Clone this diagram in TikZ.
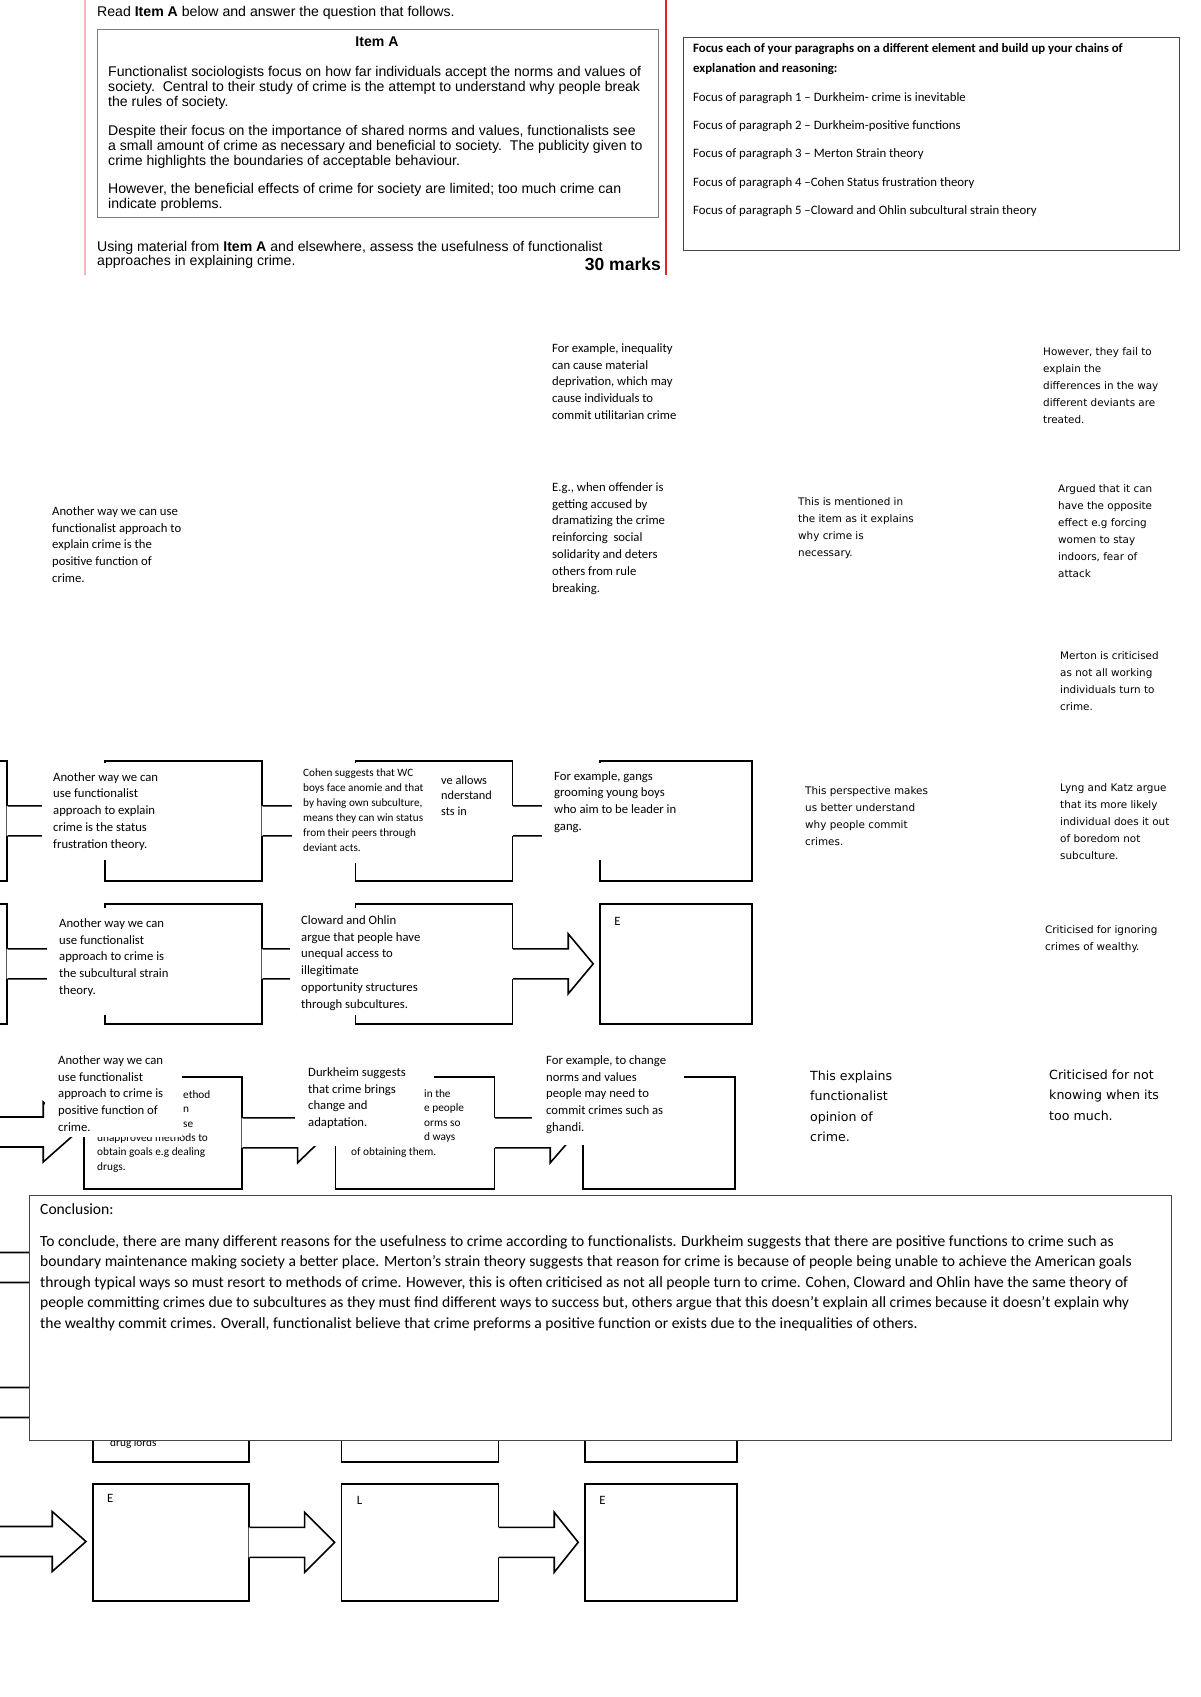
\documentclass[tikz,border=0pt]{standalone}
\usepackage{fontspec}
\setmainfont{Carlito}
\newfontfamily\itemfont{Liberation Sans}
\newfontfamily\notefont{DejaVu Sans}
\usetikzlibrary{positioning}
\usetikzlibrary{calc}

\definecolor{pinkline}{RGB}{240,185,190}
\definecolor{redline}{RGB}{225,35,35}
\definecolor{boxgray}{RGB}{125,125,125}
\definecolor{framegray}{RGB}{70,70,70}

\tikzset{
  flowbox/.style={draw, line width=1.6pt, inner sep=0pt, minimum width=157pt},
  flowline/.style={line width=1.6pt, line join=miter},
  cover/.style={fill=white},
  flowtext/.style={anchor=north west, inner sep=0pt, align=left, font=\fontsize{12.7pt}{16.8pt}\selectfont},
  smalltext/.style={anchor=north west, inner sep=0pt, align=left, font=\fontsize{11.3pt}{14.5pt}\selectfont},
  sidetext/.style={anchor=north west, inner sep=0pt, align=left, font=\notefont\fontsize{10.4pt}{17.1pt}\selectfont},
  bigside/.style={anchor=north west, inner sep=0pt, align=left, font=\notefont\fontsize{12.6pt}{20.6pt}\selectfont},
  itemtext/.style={anchor=north west, inner sep=0pt, align=left, font=\itemfont\fontsize{14.1pt}{14.7pt}\selectfont},
  endpoint/.style={inner sep=0pt, minimum size=0pt},
}

% block arrow from the right side of #1 to the left side of #2
\newcommand{\blockarrow}[2]{%
  \fill[white] let \p1=(#1.east), \p2=(#2.west) in
    (\x1-1pt,\y1+15pt) -- (\x1+55pt,\y1+15pt) -- (\x1+55pt,\y1+30pt) -- (\x2-6pt,\y1)
    -- (\x1+55pt,\y1-30pt) -- (\x1+55pt,\y1-15pt) -- (\x1-1pt,\y1-15pt) -- cycle;
  \draw[flowline] let \p1=(#1.east), \p2=(#2.west) in
    (\x1,\y1+15pt) -- (\x1+55pt,\y1+15pt) -- (\x1+55pt,\y1+30pt) -- (\x2-6pt,\y1)
    -- (\x1+55pt,\y1-30pt) -- (\x1+55pt,\y1-15pt) -- (\x1,\y1-15pt);
}

\begin{document}
\begin{tikzpicture}[x=1pt, y=-1pt]
    \useasboundingbox (0,0) rectangle (1200,1697);
    \clip (0,0) rectangle (1200,1697);
    \fill[white] (0,0) rectangle (1200,1697);

    % exam question
    \draw[pinkline, line width=1.4pt] (85,0) -- (85,275);
    \draw[redline, line width=1.8pt] (666,0) -- (666,275);
    \node[itemtext] (read) at (97,5.8) {Read \textbf{Item A} below and answer the question that follows.};
    \node[draw=boxgray, line width=1.2pt, inner sep=0pt, anchor=north west, minimum width=561pt, minimum height=188pt] (itema) at (97,29) {};
    \node[itemtext, anchor=north] (itemhead) at (377,36.8) {\textbf{Item A}};
    \node[itemtext] (para1) at (108,66.5) {Functionalist sociologists focus on how far individuals accept the norms and values of\\society.\ \ Central to their study of crime is the attempt to understand why people break\\the rules of society.};
    \node[itemtext] (para2) at (108,125.3) {Despite their focus on the importance of shared norms and values, functionalists see\\a small amount of crime as necessary and beneficial to society.\ \ The publicity given to\\crime highlights the boundaries of acceptable behaviour.};
    \node[itemtext] (para3) at (108,183.3) {However, the beneficial effects of crime for society are limited; too much crime can\\indicate problems.};
    \node[itemtext] (question) at (97,240.8) {Using material from \textbf{Item A} and elsewhere, assess the usefulness of functionalist\\approaches in explaining crime.};
    \node[itemtext, anchor=north east, font=\itemfont\bfseries\fontsize{17.5pt}{18pt}\selectfont] (marks) at (661,258) {30 marks};

    % focus list
    \node[draw=framegray, line width=1.2pt, inner sep=0pt, anchor=north west, minimum width=496pt, minimum height=213pt] (focus) at (683,37) {};
    \node[anchor=north west, inner sep=0pt, align=left, font=\bfseries\fontsize{12.8pt}{19.5pt}\selectfont] (focushead) at (693,43.4) {Focus each of your paragraphs on a different element and build up your chains of\\explanation and reasoning:};
    \node[anchor=north west, inner sep=0pt, align=left, font=\fontsize{12.8pt}{28.25pt}\selectfont] (focuslist) at (693,92.2) {Focus of paragraph 1 – Durkheim- crime is inevitable\\Focus of paragraph 2 – Durkheim-positive functions\\Focus of paragraph 3 – Merton Strain theory\\Focus of paragraph 4 –Cohen Status frustration theory\\Focus of paragraph 5 –Cloward and Ohlin subcultural strain theory};

    % loose notes
    \node[flowtext] (ineq) at (552,343.3) {For example, inequality\\can cause material\\deprivation, which may\\cause individuals to\\commit utilitarian crime};
    \node[flowtext] (offender) at (552,482.3) {E.g., when offender is\\getting accused by\\dramatizing the crime\\reinforcing\ \ social\\solidarity and deters\\others from rule\\breaking.};
    \node[flowtext] (posfunc) at (52,506.3) {Another way we can use\\functionalist approach to\\explain crime is the\\positive function of\\crime.};

    \node[sidetext] (fail) at (1043,347.3) {However, they fail to\\explain the\\differences in the way\\different deviants are\\treated.};
    \node[sidetext] (mention) at (798,497.3) {This is mentioned in\\the item as it explains\\why crime is\\necessary.};
    \node[sidetext] (opposite) at (1058,484.3) {Argued that it can\\have the opposite\\effect e.g forcing\\women to stay\\indoors, fear of\\attack};
    \node[sidetext] (merton) at (1060,651.3) {Merton is criticised\\as not all working\\individuals turn to\\crime.};
    \node[sidetext] (perspective) at (805,786.3) {This perspective makes\\us better understand\\why people commit\\crimes.};
    \node[sidetext] (lyng) at (1060,783.3) {Lyng and Katz argue\\that its more likely\\individual does it out\\of boredom not\\subculture.};
    \node[sidetext] (wealthy) at (1045,925.3) {Criticised for ignoring\\crimes of wealthy.};
    \node[bigside] (explains) at (810,1070.3) {This explains\\functionalist\\opinion of\\crime.};
    \node[bigside] (toomuch) at (1049,1069.3) {Criticised for not\\knowing when its\\too much.};

    % row 1
    \node[flowbox, minimum height=120pt, anchor=north east] (b10) at (7.5,760) {};
    \node[flowbox, minimum height=120pt, anchor=north west] (b11) at (104,760) {};
    \node[flowbox, minimum height=120pt, right=92pt of b11] (b12) {};
    \node[flowbox, minimum height=120pt, minimum width=152pt, right=86pt of b12] (b13) {};
    \blockarrow{b10}{b11}
    \blockarrow{b11}{b12}
    \blockarrow{b12}{b13}
    \node[flowtext, font=\fontsize{12.3pt}{15.5pt}\selectfont] (hid12) at (441,775.5) {ve allows\\nderstand\\sts in};
    \fill[cover] (42,763) rectangle (230,860);
    \fill[cover] (292,763) rectangle (438,863);
    \fill[cover] (542,763) rectangle (688,860);
    \node[flowtext] (status) at (53,772) {Another way we can\\use functionalist\\approach to explain\\crime is the status\\frustration theory.};
    \node[flowtext, font=\fontsize{11.2pt}{15pt}\selectfont] (cohen) at (303,769) {Cohen suggests that WC\\boys face anomie and that\\by having own subculture,\\means they can win status\\from their peers through\\deviant acts.};
    \node[flowtext] (gangs) at (554,771) {For example, gangs\\grooming young boys\\who aim to be leader in\\gang.};

    % row 2
    \node[flowbox, minimum height=120pt, anchor=north east] (b20) at (7.5,903) {};
    \node[flowbox, minimum height=120pt, anchor=north west] (b21) at (104,903) {};
    \node[flowbox, minimum height=120pt, right=92pt of b21] (b22) {};
    \node[flowbox, minimum height=120pt, minimum width=152pt, right=86pt of b22] (b23) {};
    \blockarrow{b20}{b21}
    \blockarrow{b21}{b22}
    \blockarrow{b22}{b23}
    \fill[cover] (47,908) rectangle (230,1015);
    \fill[cover] (290,908) rectangle (440,1015);
    \node[flowtext] (subcult) at (59,918.3) {Another way we can\\use functionalist\\approach to crime is\\the subcultural strain\\theory.};
    \node[flowtext] (cloward) at (301,915.3) {Cloward and Ohlin\\argue that people have\\unequal access to\\illegitimate\\opportunity structures\\through subcultures.};
    \node[flowtext] (e23) at ($(b23.north west)+(15,14.3)$) {E};

    % row 3
    \node[endpoint] (in3) at (-12,1132) {};
    \node[flowbox, minimum height=112pt, minimum width=158pt, anchor=north west] (b31) at (83,1076) {};
    \node[flowbox, minimum height=112pt, minimum width=159pt, right=92pt of b31] (b32) {};
    \node[flowbox, minimum height=112pt, minimum width=152pt, right=87pt of b32] (b33) {};
    \blockarrow{in3}{b31}
    \blockarrow{b31}{b32}
    \blockarrow{b32}{b33}
    \node[smalltext] (hid31a) at (183,1090) {ethod\\n\\se};
    \node[smalltext] (hid31b) at (97,1133) {unapproved methods to\\obtain goals e.g dealing\\drugs.};
    \node[smalltext] (hid32a) at (424,1089) {in the\\e people\\orms so\\d ways};
    \node[smalltext] (hid32b) at (351,1147) {of obtaining them.};
    \fill[cover] (45,1050) rectangle (182,1137);
    \fill[cover] (295,1050) rectangle (434,1080);
    \fill[cover] (295,1050) rectangle (422,1146);
    \fill[cover] (532,1050) rectangle (684,1145);
    \node[flowtext] (posfunc2) at (58,1055.3) {Another way we can\\use functionalist\\approach to crime is\\positive function of\\crime.};
    \node[flowtext] (durkheim) at (308,1067.3) {Durkheim suggests\\that crime brings\\change and\\adaptation.};
    \node[flowtext] (ghandi) at (546,1055.3) {For example, to change\\norms and values\\people may need to\\commit crimes such as\\ghandi.};

    % rows under the conclusion
    \node[endpoint] (in35) at (-12,1267.5) {};
    \node[endpoint] (b35) at (92,1267.5) {};
    \blockarrow{in35}{b35}
    \node[endpoint] (in4) at (-12,1402.5) {};
    \node[flowbox, minimum height=117pt, minimum width=156pt, anchor=north west] (b41) at (92,1344) {};
    \node[flowbox, minimum height=117pt, right=91pt of b41] (b42) {};
    \node[flowbox, minimum height=117pt, minimum width=152pt, right=85pt of b42] (b43) {};
    \blockarrow{in4}{b41}
    \blockarrow{b41}{b42}
    \blockarrow{b42}{b43}
    \node[smalltext] (drug) at (110,1438) {drug lords};

    % conclusion
    \node[draw=framegray, fill=white, line width=1.2pt, inner sep=0pt, anchor=north west, minimum width=1142pt, minimum height=245pt] (concl) at (29,1195) {};
    \node[anchor=north west, inner sep=0pt, align=left, font=\fontsize{15.6pt}{20.6pt}\selectfont] (conclhead) at (40,1203) {Conclusion:};
    \node[anchor=north west, inner sep=0pt, align=left, font=\fontsize{15.6pt}{20.6pt}\selectfont] (concltext) at (40,1235) {To conclude, there are many different reasons for the usefulness to crime according to functionalists. Durkheim suggests that there are positive functions to crime such as\\boundary maintenance making society a better place. Merton’s strain theory suggests that reason for crime is because of people being unable to achieve the American goals\\through typical ways so must resort to methods of crime. However, this is often criticised as not all people turn to crime. Cohen, Cloward and Ohlin have the same theory of\\people committing crimes due to subcultures as they must find different ways to success but, others argue that this doesn’t explain all crimes because it doesn’t explain why\\the wealthy commit crimes. Overall, functionalist believe that crime preforms a positive function or exists due to the inequalities of others.};

    % row 5
    \node[endpoint] (in5) at (-3,1541.5) {};
    \node[flowbox, minimum height=117pt, minimum width=156pt, anchor=north west] (b51) at (92,1483) {};
    \node[flowbox, minimum height=117pt, right=91pt of b51] (b52) {};
    \node[flowbox, minimum height=117pt, minimum width=152pt, right=85pt of b52] (b53) {};
    \blockarrow{in5}{b51}
    \blockarrow{b51}{b52}
    \blockarrow{b52}{b53}
    \node[flowtext] (e51) at ($(b51.north west)+(15,11.5)$) {E};
    \node[flowtext] (l52) at ($(b52.north west)+(16,13.5)$) {L};
    \node[flowtext] (e53) at ($(b53.north west)+(15,13.5)$) {E};
\end{tikzpicture}
\end{document}
